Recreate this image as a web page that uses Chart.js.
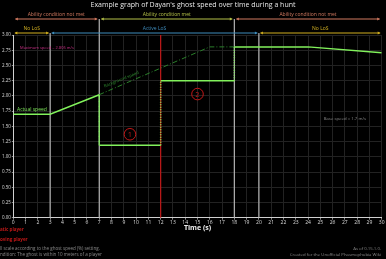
<!DOCTYPE html>
<html>
<head>
<meta charset="utf-8">
<script src="https://cdn.jsdelivr.net/npm/chart.js@4.4.0/dist/chart.umd.min.js"></script>
<style>
  html, body { margin: 0; padding: 0; background: #000; overflow: hidden; }
  #wrap { width: 386px; height: 259px; }
</style>
</head>
<body>
<div id="wrap"><canvas id="speedChart" width="386" height="259"></canvas></div>
<script>
// --- data ---
const actualTime = [0, 3, 7, 7, 12, 12, 18, 18, 24, 30];
const actualSpeed = [1.7, 1.7, 2.02, 1.19, 1.19, 2.25, 2.25, 2.805, 2.805, 2.71];
const backgroundTime = [7, 16, 18];
const backgroundSpeed = [2.02, 2.805, 2.805];

const losEventTimes = [3, 20];
const abilityEventTimes = [7, 18];
const playerEventTimes = [12];

const abilityRanges = [
  { from: 0, to: 7, label: "Ability condition not met", met: false },
  { from: 7, to: 18, label: "Ability condition met", met: true },
  { from: 18, to: 30, label: "Ability condition not met", met: false },
];
const losRanges = [
  { from: 0, to: 3, label: "No LoS", los: false },
  { from: 3, to: 20, label: "Active LoS", los: true },
  { from: 20, to: 30, label: "No LoS", los: false },
];

const xMin = 0, xMax = 30, xStep = 1;
const yMin = 0, yMax = 3, yStep = 0.25;

const FONT = "'Open Sans', 'Noto Sans', sans-serif";

const toPoints = (xs, ys) => xs.map((x, i) => ({ x: x, y: ys[i] }));

// arrow between two x pixels at height y
function drawRangeArrow(ctx, x1, x2, y, color) {
  ctx.save();
  ctx.strokeStyle = color;
  ctx.fillStyle = color;
  ctx.lineWidth = 1;
  ctx.beginPath();
  ctx.moveTo(x1, y);
  ctx.lineTo(x2, y);
  ctx.stroke();
  [[x1, -1], [x2, 1]].forEach(([x, dir]) => {
    ctx.beginPath();
    ctx.moveTo(x, y);
    ctx.lineTo(x - dir * 2.5, y - 1.6);
    ctx.lineTo(x - dir * 2.5, y + 1.6);
    ctx.closePath();
    ctx.fill();
  });
  ctx.restore();
}

function drawText(ctx, text, x, y, color, size, align, weight) {
  ctx.save();
  ctx.fillStyle = color;
  ctx.font = (weight || "normal") + " " + size + "px " + FONT;
  ctx.textAlign = align || "left";
  ctx.textBaseline = "middle";
  ctx.fillText(text, x, y);
  ctx.restore();
}

const extrasPlugin = {
  id: "extras",
  beforeDatasetsDraw(chart) {
    const { ctx, chartArea, scales } = chart;
    const xs = scales.x;
    // event lines
    ctx.save();
    ctx.lineWidth = 1.2;
    ctx.strokeStyle = "#b4b4b4";
    abilityEventTimes.forEach((t) => {
      const px = xs.getPixelForValue(t);
      ctx.beginPath(); ctx.moveTo(px, 19); ctx.lineTo(px, chartArea.bottom); ctx.stroke();
    });
    losEventTimes.forEach((t) => {
      const px = xs.getPixelForValue(t);
      ctx.beginPath(); ctx.moveTo(px, 33); ctx.lineTo(px, chartArea.bottom); ctx.stroke();
    });
    ctx.strokeStyle = "#c01818";
    playerEventTimes.forEach((t) => {
      const px = xs.getPixelForValue(t);
      ctx.beginPath(); ctx.moveTo(px, chartArea.top); ctx.lineTo(px, chartArea.bottom); ctx.stroke();
    });
    ctx.restore();

    // range arrows
    abilityRanges.forEach((r) => {
      const color = r.met ? "#b4c048" : "#d27a60";
      const a = xs.getPixelForValue(r.from) + 2;
      const b = xs.getPixelForValue(r.to) - 2;
      drawRangeArrow(ctx, a, b, 19, color);
      drawText(ctx, r.label, (a + b) / 2, 15, color, 5, "center");
    });
    losRanges.forEach((r) => {
      const color = r.los ? "#3f8dbd" : "#d2b020";
      const a = xs.getPixelForValue(r.from) + 1.5;
      const b = xs.getPixelForValue(r.to) - 1.5;
      drawRangeArrow(ctx, a, b, 33, color);
      drawText(ctx, r.label, (a + b) / 2, 29, color, 5, "center");
    });
  },
  afterDatasetsDraw(chart) {
    const { ctx, chartArea, scales } = chart;
    const xs = scales.x, ys = scales.y;
    const W = chart.width;

    drawText(ctx, "Example graph of Dayan's ghost speed over time during a hunt", W / 2, 5, "#e6e6e6", 7, "center");
    drawText(ctx, "Time (s)", (chartArea.left + chartArea.right) / 2, 228, "#f0f0f0", 7, "center", "bold");

    drawText(ctx, "Maximum speed = 2.805 m/s", xs.getPixelForValue(0.55), ys.getPixelForValue(2.79), "#d0308a", 4);
    drawText(ctx, "Actual speed", xs.getPixelForValue(0.3), ys.getPixelForValue(1.77), "#7ee85a", 5);
    drawText(ctx, "Base speed = 1.7 m/s", xs.getPixelForValue(27), ys.getPixelForValue(1.62), "#8a8a8a", 4.3, "center");

    // rotated label along the background line
    ctx.save();
    ctx.translate(xs.getPixelForValue(8.8), ys.getPixelForValue(2.27));
    ctx.rotate(-22 * Math.PI / 180);
    drawText(ctx, "Background speed", 0, 0, "#2f8a2f", 4.3, "center");
    ctx.restore();

    // numbered circles
    [[9.5, 1.37, "1"], [15, 2.03, "2"]].forEach(([t, v, n]) => {
      const px = xs.getPixelForValue(t), py = ys.getPixelForValue(v);
      ctx.save();
      ctx.strokeStyle = "#c01818";
      ctx.lineWidth = 1;
      ctx.beginPath(); ctx.arc(px, py, 5.8, 0, Math.PI * 2); ctx.stroke();
      ctx.restore();
      drawText(ctx, n, px, py + 0.3, "#c01818", 7.5, "center");
    });

    // footer notes (cut off at the left edge, as in the reference)
    ctx.save();
    ctx.font = "bold 4.5px " + FONT;
    const off1 = ctx.measureText("St").width;
    const off2 = ctx.measureText("M").width;
    ctx.font = "4.5px " + FONT;
    const off3 = ctx.measureText("Values wi").width;
    const off4 = ctx.measureText("Ability co").width;
    ctx.restore();
    drawText(ctx, "Static player", -off1, 230, "#c01818", 4.5, "left", "bold");
    drawText(ctx, "Moving player", -off2, 240, "#c01818", 4.5, "left", "bold");
    drawText(ctx, "Values will scale according to the ghost speed (%) setting.", -off3, 249, "#8a8a8a", 4.5);
    drawText(ctx, "Ability condition: The ghost is within 10 meters of a player", -off4, 255, "#8a8a8a", 4.5);
    drawText(ctx, "As of 0.15.1.0.", 381, 249, "#8a8a8a", 4.3, "right");
    drawText(ctx, "Created for the Unofficial Phasmophobia Wiki", 381, 255, "#8a8a8a", 4.3, "right");
  },
};

new Chart(document.getElementById("speedChart"), {
  type: "line",
  data: {
    datasets: [
      {
        label: "Actual speed",
        data: toPoints(actualTime, actualSpeed),
        borderColor: "#82f25c",
        borderWidth: 1.5,
        pointRadius: 0,
        tension: 0,
        segment: {
          borderDash: (c) => (c.p0.parsed.x === c.p1.parsed.x ? [1, 1.5] : undefined),
        },
      },
      {
        label: "Background speed",
        data: toPoints(backgroundTime, backgroundSpeed),
        borderColor: "#2a7f2a",
        borderWidth: 1,
        borderDash: [5, 2, 1, 2],
        pointRadius: 0,
        tension: 0,
      },
    ],
  },
  options: {
    responsive: false,
    devicePixelRatio: 1,
    animation: false,
    layout: { padding: { top: 35, right: 4.3, left: 0, bottom: 0 } },
    plugins: { legend: { display: false }, tooltip: { enabled: false } },
    scales: {
      x: {
        type: "linear",
        min: xMin,
        max: xMax,
        ticks: { stepSize: xStep, color: "#dcdcdc", font: { size: 5, family: FONT }, padding: 0, maxRotation: 0 },
        grid: { color: "#222", tickColor: "#888", tickLength: 2 },
        border: { color: "#d0d0d0", width: 1 },
        afterFit: (s) => { s.height = 41.3; },
      },
      y: {
        min: yMin,
        max: yMax,
        ticks: {
          stepSize: yStep,
          color: "#dcdcdc",
          font: { size: 4.5, family: FONT },
          padding: 1,
          callback: (v) => v.toFixed(2),
        },
        grid: { color: "#222", tickColor: "#888", tickLength: 1.5 },
        border: { color: "#d0d0d0", width: 1 },
        afterFit: (s) => { s.width = 13.3; },
      },
    },
  },
  plugins: [extrasPlugin],
});
</script>
</body>
</html>
